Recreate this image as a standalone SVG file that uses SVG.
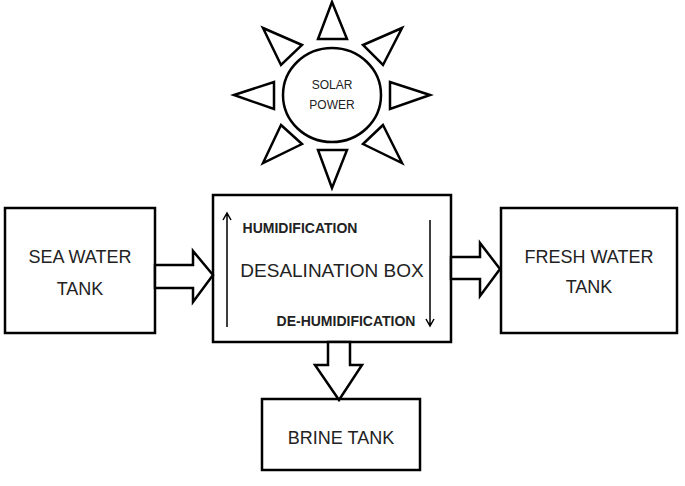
<svg xmlns="http://www.w3.org/2000/svg" width="685" height="486" viewBox="0 0 685 486">
<style>
.s{fill:#fff;stroke:#000;stroke-width:2.5;stroke-linejoin:miter}
.t{font-family:"Liberation Sans",Arial,sans-serif;fill:#222;text-anchor:middle}
.ln{stroke:#000;stroke-width:1.5;fill:none}
</style>
<rect width="685" height="486" fill="#fff"/>
<g id="sun">
<ellipse class="s" cx="332" cy="95" rx="49" ry="47"/>
<polygon class="s" points="332,2 318,39 347,39"/>
<polygon class="s" points="332,188 318,150 347,150"/>
<polygon class="s" points="234,95 274,82 274,109"/>
<polygon class="s" points="430,95 390,82 390,109"/>
<polygon class="s" points="263,28 302,45 281,65"/>
<polygon class="s" points="402,28 363,45 383,65"/>
<polygon class="s" points="281,125 302,144 263,163"/>
<polygon class="s" points="383,125 363,144 402,163"/>
<text class="t" x="332" y="89" font-size="12">SOLAR</text>
<text class="t" x="332" y="109" font-size="12">POWER</text>
</g>
<g id="sea">
<rect class="s" x="5" y="208" width="150" height="125"/>
<text class="t" x="80" y="263" font-size="18">SEA WATER</text>
<text class="t" x="80" y="295" font-size="18">TANK</text>
</g>
<g id="box">
<rect class="s" x="213" y="195" width="238" height="147"/>
<text class="t" x="332" y="277" font-size="19">DESALINATION BOX</text>
<text class="t" x="300" y="233" font-size="14" font-weight="bold" style="text-anchor:middle">HUMIDIFICATION</text>
<text class="t" x="346" y="326" font-size="14" font-weight="bold">DE-HUMIDIFICATION</text>
<path class="ln" d="M227,327V214M223,220L227,213L231,220"/>
<path class="ln" d="M430,220V325M426,319L430,326L434,319"/>
</g>
<g id="fresh">
<rect class="s" x="501" y="208" width="176" height="125"/>
<text class="t" x="589" y="263" font-size="18">FRESH WATER</text>
<text class="t" x="589" y="293" font-size="18">TANK</text>
</g>
<g id="brine">
<rect class="s" x="262" y="399" width="158" height="71"/>
<text class="t" x="341" y="444" font-size="18">BRINE TANK</text>
</g>
<g id="connectors">
<polygon class="s" points="155,265 193,265 193,251 213,275 193,302 193,288 155,288"/>
<polygon class="s" points="451,257 480,257 480,243 500,269 480,296 480,279 451,279"/>
<polygon class="s" points="328,342 350,342 350,365 362,365 339,400 315,365 328,365"/>
</g>
</svg>
